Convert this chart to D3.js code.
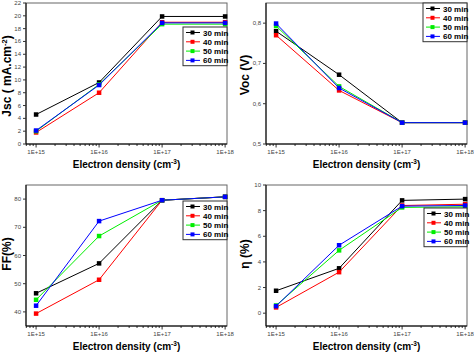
<!DOCTYPE html>
<html>
<head>
<meta charset="utf-8">
<script src="https://cdn.jsdelivr.net/npm/d3@7"></script>
<style>
  body { margin: 0; background: #fff; }
  svg { font-family: "Liberation Sans", Arial, sans-serif; }
</style>
</head>
<body>
<div id="chart"></div>
<script>
// electron density (x) shared by all four panels
const density = [1e15, 1e16, 1e17, 1e18];
const seriesNames = ["30 min", "40 min", "50 min", "60 min"];
const seriesColors = ["#000000", "#ff0000", "#00ee00", "#0000ff"];

const jsc30 = [4.6, 9.6, 19.9, 19.9];
const jsc40 = [1.8, 8.0, 19.0, 19.0];
const jsc50 = [2.0, 9.3, 18.7, 18.7];
const jsc60 = [2.1, 9.2, 18.9, 18.9];

const voc30 = [0.780, 0.672, 0.553, 0.553];
const voc40 = [0.770, 0.633, 0.553, 0.553];
const voc50 = [0.793, 0.643, 0.553, 0.553];
const voc60 = [0.799, 0.639, 0.553, 0.553];

const ff30 = [46.6, 57.2, 79.6, 80.8];
const ff40 = [39.4, 51.4, 79.6, 80.8];
const ff50 = [44.3, 66.9, 79.6, 80.8];
const ff60 = [42.2, 72.2, 79.6, 80.8];

const eta30 = [1.75, 3.5, 8.8, 8.9];
const eta40 = [0.45, 3.2, 8.4, 8.5];
const eta50 = [0.6, 4.9, 8.25, 8.3];
const eta60 = [0.55, 5.3, 8.35, 8.4];

const xTickLabels = ["1E+15", "1E+16", "1E+17", "1E+18"];

const panels = [
  { key: "jsc", series: [jsc30, jsc40, jsc50, jsc60], yDomain: [0, 22], yTicks: d3.range(0, 23, 2), fmt: d => d,
    box: [26, 3, 227, 144], legend: [183, 27], ytitle: "Jsc ( mA.cm", ysup: "-2", ytail: ")", ytx: 11, yty: 76 },
  { key: "voc", series: [voc30, voc40, voc50, voc60], yDomain: [0.5, 0.85], yTicks: [0.5, 0.6, 0.7, 0.8], fmt: d => d3.format(".1f")(d).replace(".", ","),
    box: [266, 3, 467, 144], legend: [423, 3], ytitle: "Voc (V)", ytx: 249, yty: 75 },
  { key: "ff", series: [ff30, ff40, ff50, ff60], yDomain: [35, 85], yTicks: [40, 50, 60, 70, 80], fmt: d => d,
    box: [26, 185, 227, 326], legend: [183, 201], ytitle: "FF(%)", ytx: 11, yty: 254 },
  { key: "eta", series: [eta30, eta40, eta50, eta60], yDomain: [-1, 10], yTicks: [0, 2, 4, 6, 8, 10], fmt: d => d,
    box: [266, 185, 467, 326], legend: [424, 208], ytitle: "\u03b7 (%)", ytx: 249, yty: 254 }
];

const svg = d3.select("#chart").append("svg")
  .attr("width", 474).attr("height", 352);

panels.forEach(p => {
  const [x0, y0, x1, y1] = p.box;
  const x = d3.scaleLog().domain([Math.pow(10, 14.84), Math.pow(10, 18.03)]).range([x0, x1]);
  const y = d3.scaleLinear().domain(p.yDomain).range([y1, y0]);
  const g = svg.append("g");

  // frame
  g.append("rect").attr("x", x0).attr("y", y0).attr("width", x1 - x0).attr("height", y1 - y0)
    .attr("fill", "none").attr("stroke", "#666").attr("stroke-width", 1);

  // x axis with minor log ticks
  const minor = [];
  for (let e = 14; e <= 18; e++) for (let m = 1; m < 10; m++) {
    const v = m * Math.pow(10, e);
    if (x(v) >= x0 && x(v) <= x1) minor.push(v);
  }
  g.selectAll(".xminor").data(minor).enter().append("line")
    .attr("x1", d => x(d)).attr("x2", d => x(d))
    .attr("y1", y1).attr("y2", d => density.includes(d) ? y1 + 3.5 : y1 + 2)
    .attr("stroke", "#333").attr("stroke-width", 1);
  g.append("line").attr("x1", x0).attr("x2", x1).attr("y1", y1).attr("y2", y1).attr("stroke", "#000");
  g.selectAll(".xlab").data(density).enter().append("text")
    .attr("x", d => x(d)).attr("y", y1 + 10)
    .attr("text-anchor", "middle").attr("font-size", 6).attr("fill", "#444")
    .text((d, i) => xTickLabels[i]);

  // y axis
  g.append("line").attr("x1", x0).attr("x2", x0).attr("y1", y0).attr("y2", y1).attr("stroke", "#000");
  g.selectAll(".ytick").data(p.yTicks).enter().append("line")
    .attr("x1", x0 - 3).attr("x2", x0).attr("y1", d => y(d)).attr("y2", d => y(d))
    .attr("stroke", "#333");
  g.selectAll(".ylab").data(p.yTicks).enter().append("text")
    .attr("x", x0 - 5).attr("y", d => y(d) + 2)
    .attr("text-anchor", "end").attr("font-size", 6).attr("fill", "#444")
    .text(p.fmt);

  // axis titles
  const xt = g.append("text").attr("x", (x0 + x1) / 2).attr("y", y1 + 24)
    .attr("text-anchor", "middle").attr("font-size", 10).attr("font-weight", "bold");
  xt.append("tspan").text("Electron density (cm");
  xt.append("tspan").attr("dy", -4).attr("font-size", 6.5).text("-3");
  xt.append("tspan").attr("dy", 4).text(")");

  const yt = g.append("text").attr("transform", `translate(${p.ytx},${p.yty}) rotate(-90)`)
    .attr("text-anchor", "middle").attr("font-size", 12).attr("font-weight", "bold");
  yt.append("tspan").text(p.ytitle);
  if (p.ysup) {
    yt.append("tspan").attr("dy", -4).attr("font-size", 7.5).text(p.ysup);
    yt.append("tspan").attr("dy", 4).text(p.ytail);
  }

  // series
  const line = d3.line().x((d, i) => x(density[i])).y(d => y(d));
  p.series.forEach((s, k) => {
    g.append("path").datum(s).attr("d", line)
      .attr("fill", "none").attr("stroke", seriesColors[k]).attr("stroke-width", 1);
    g.selectAll(".pt" + k).data(s).enter().append("rect")
      .attr("x", (d, i) => x(density[i]) - 2.25).attr("y", d => y(d) - 2.25)
      .attr("width", 4.5).attr("height", 4.5).attr("fill", seriesColors[k]);
  });

  // legend
  const [lx, ly] = p.legend;
  const lw = x1 - lx, rowH = 9.3;
  const lg = g.append("g").attr("transform", `translate(${lx},${ly})`);
  lg.append("rect").attr("width", lw).attr("height", rowH * 4 + 1.5)
    .attr("fill", "#fff").attr("stroke", "#333").attr("stroke-width", 1);
  seriesNames.forEach((n, k) => {
    const cy = 5.5 + k * rowH;
    lg.append("line").attr("x1", 3).attr("x2", 17).attr("y1", cy).attr("y2", cy)
      .attr("stroke", seriesColors[k]);
    lg.append("rect").attr("x", 7.5).attr("y", cy - 2).attr("width", 4).attr("height", 4)
      .attr("fill", seriesColors[k]);
    lg.append("text").attr("x", 20).attr("y", cy + 3).attr("font-size", 8)
      .attr("font-weight", "bold").text(n);
  });
});
</script>
</body>
</html>
